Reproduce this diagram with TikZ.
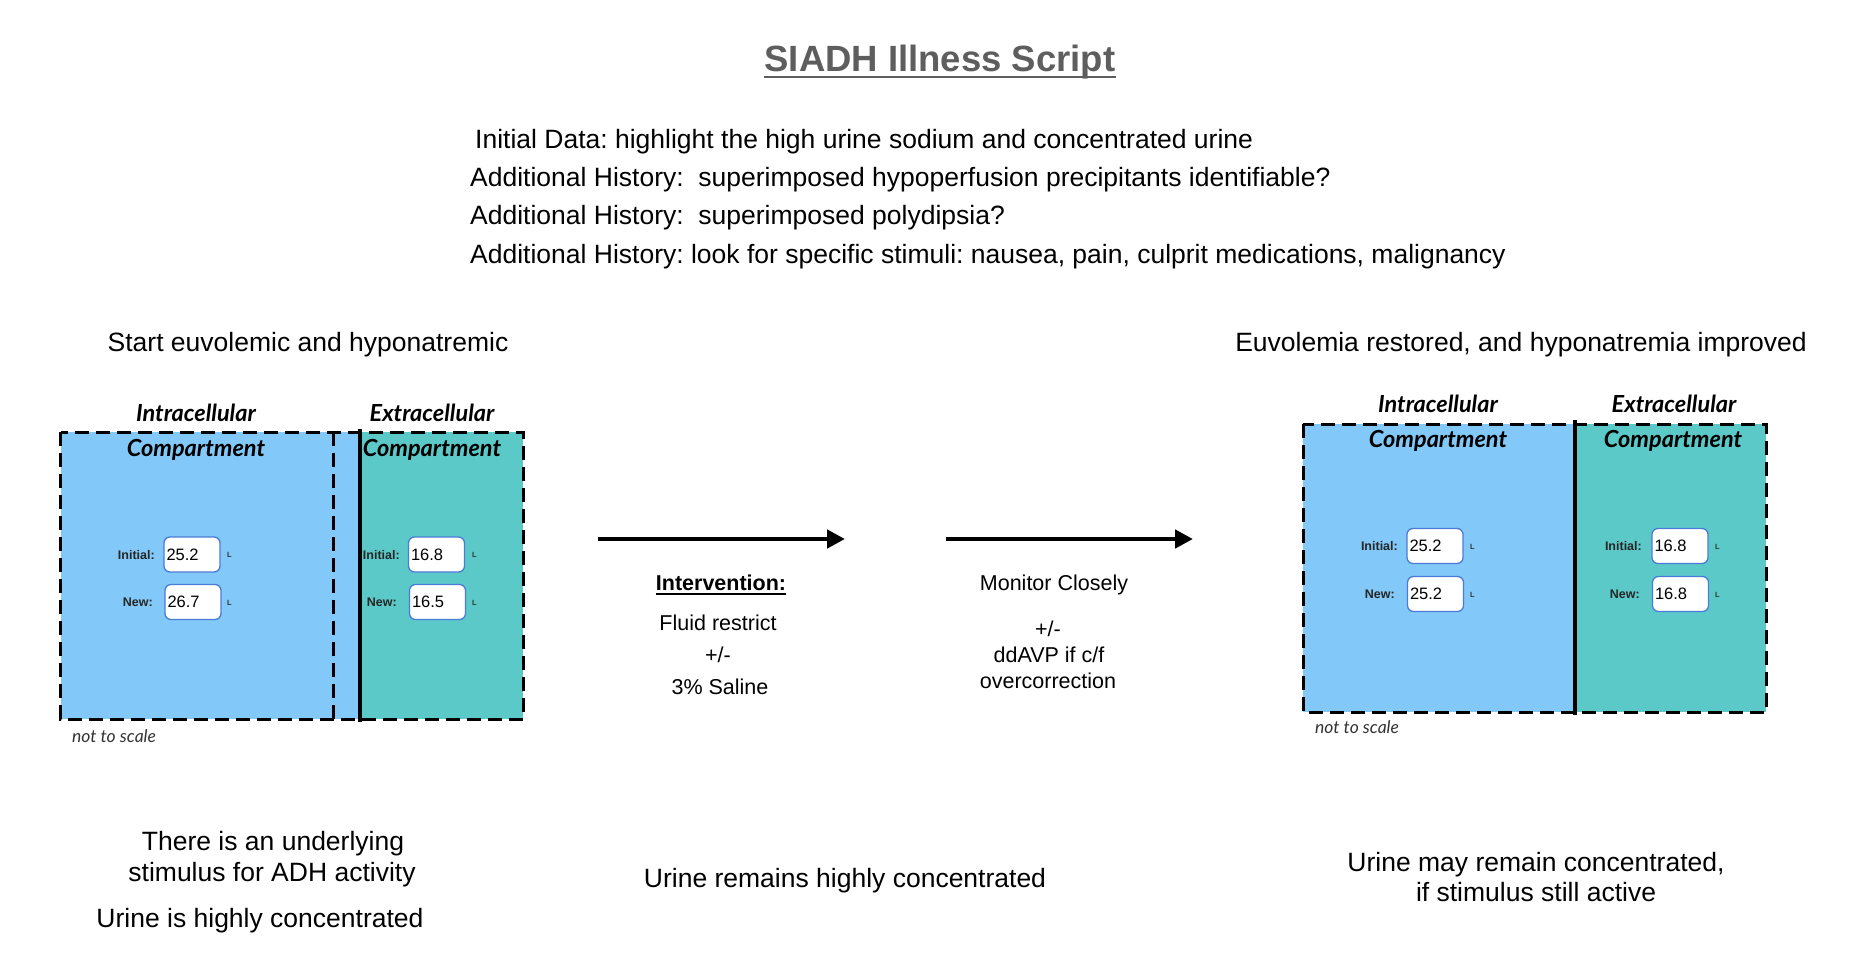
\documentclass[tikz,border=0pt]{standalone}
\usepackage{fontspec}
\setmainfont{Liberation Sans}
\newfontfamily\latofont{Lato}
\usetikzlibrary{arrows.meta}
\definecolor{icf}{HTML}{82C8F8}
\definecolor{ecf}{HTML}{5CC9C9}
\definecolor{boxblue}{HTML}{4A7BD6}
\definecolor{titlegray}{HTML}{5E5E5E}
\frenchspacing
\tikzset{
  txt/.style={inner sep=0pt, anchor=base, font=\fontsize{26.5}{32}\selectfont},
  txtl/.style={inner sep=0pt, anchor=base west, font=\fontsize{26.5}{32}\selectfont},
  midtxt/.style={inner sep=0pt, anchor=base, font=\fontsize{21.5}{26}\selectfont},
  titletxt/.style={inner sep=0pt, anchor=base, text=titlegray, font=\bfseries\fontsize{36.5}{42}\selectfont},
  comptxt/.style={inner sep=0pt, anchor=base, font=\latofont\bfseries\itshape\fontsize{23.5}{27}\selectfont},
  scaletxt/.style={inner sep=0pt, anchor=base west, text=black!80, font=\latofont\itshape\fontsize{17.5}{20}\selectfont},
  rowlbl/.style={inner sep=0pt, anchor=base east, text=black!85, font=\bfseries\fontsize{12.5}{14}\selectfont},
  unitlbl/.style={inner sep=0pt, anchor=base west, text=black!80, font=\bfseries\fontsize{7.5}{9}\selectfont},
  valbox/.style={draw=boxblue, fill=white, rounded corners=6pt, line width=1.3pt,
    text width=51pt, inner xsep=2.5pt, inner ysep=0pt, minimum height=35pt,
    align=left, font=\fontsize{16.5}{18}\selectfont},
  dashedge/.style={line width=3pt, dash pattern=on 14pt off 7pt},
  membrane/.style={line width=4.7pt},
  arr/.style={line width=4.5pt, -{Triangle[length=18pt,width=18pt]}}
}
\begin{document}
\frenchspacing
\begin{tikzpicture}[x=1pt,y=-1pt]
\useasboundingbox[fill=white] (0,0) rectangle (1874,976);

% ---------------- Title and header texts ----------------
\node[titletxt] (title) at (940,72) {SIADH Illness Script};
\draw[titlegray, line width=2.2pt] ([yshift=-5pt]title.base west) -- ([yshift=-5pt]title.base east);

\node[txtl] (h1) at (475,149) {Initial Data: highlight the high urine sodium and concentrated urine};
\node[txtl] (h2) at (470,187) {Additional History:\ \ superimposed hypoperfusion precipitants identifiable?};
\node[txtl] (h3) at (470,225) {Additional History:\ \ superimposed polydipsia?};
\node[txtl] (h4) at (470,264) {Additional History: look for specific stimuli: nausea, pain, culprit medications, malignancy};

\node[txt] (startlbl) at (308,352) {Start euvolemic and hyponatremic};
\node[txt] (endlbl) at (1521,352) {Euvolemia restored, and hyponatremia improved};

% ---------------- Left compartment diagram ----------------
\fill[icf] (60.7,432) rectangle (360,719);
\fill[ecf] (360,432) rectangle (523,719);
\draw[dashedge] (60.7,432) rectangle (523,719);
\draw[dashedge] (333,432) -- (333,719);

\node[comptxt] (lic1) at (196,421) {Intracellular};
\node[comptxt] (lic2) at (196,456) {Compartment};
\node[comptxt] (lec1) at (432,421) {Extracellular};
\node[comptxt] (lec2) at (432,456) {Compartment};

\node[rowlbl] (lii) at (155,559) {Initial:};
\node[valbox] (liiv) at (192,554.5) {25.2};
\node[unitlbl] (liiu) at (227,557) {L};
\node[rowlbl] (lin) at (153,606.5) {New:};
\node[valbox] (linv) at (193,602) {26.7};
\node[unitlbl] (linu) at (227,605) {L};

\node[rowlbl] (lei) at (400,559) {Initial:};
\node[valbox] (leiv) at (436.5,554.5) {16.8};
\node[unitlbl] (leiu) at (472,557) {L};
\node[rowlbl] (len) at (397,606.5) {New:};
\node[valbox] (lenv) at (437.5,602) {16.5};
\node[unitlbl] (lenu) at (472,605) {L};

\draw[membrane] (360,429) -- (360,722);
\node[scaletxt] (lscale) at (72,742) {not to scale};

% ---------------- Right compartment diagram ----------------
\fill[icf] (1303,424) rectangle (1575,712);
\fill[ecf] (1575,424) rectangle (1766,712);
\draw[dashedge] (1303,424) rectangle (1766,712);

\node[comptxt] (ric1) at (1438,412) {Intracellular};
\node[comptxt] (ric2) at (1438,447) {Compartment};
\node[comptxt] (rec1) at (1674,412) {Extracellular};
\node[comptxt] (rec2) at (1673,447) {Compartment};

\node[rowlbl] (rii) at (1398,550.5) {Initial:};
\node[valbox] (riiv) at (1435,546) {25.2};
\node[unitlbl] (riiu) at (1470,549) {L};
\node[rowlbl] (rin) at (1395,598.5) {New:};
\node[valbox] (rinv) at (1435.5,594) {25.2};
\node[unitlbl] (rinu) at (1470,597) {L};

\node[rowlbl] (rei) at (1642,550.5) {Initial:};
\node[valbox] (reiv) at (1680,546) {16.8};
\node[unitlbl] (reiu) at (1715,549) {L};
\node[rowlbl] (ren) at (1640,598.5) {New:};
\node[valbox] (renv) at (1680.5,594) {16.8};
\node[unitlbl] (renu) at (1715,597) {L};

\draw[membrane] (1575,420) -- (1575,715);
\node[scaletxt] (rscale) at (1315,733) {not to scale};

% ---------------- Arrows and middle texts ----------------
\coordinate (a1s) at (598,539);
\coordinate (a1e) at (845,539);
\coordinate (a2s) at (946,539);
\coordinate (a2e) at (1193,539);
\draw[arr] (a1s) -- (a1e);
\draw[arr] (a2s) -- (a2e);

\node[midtxt, font=\bfseries\fontsize{21.5}{26}\selectfont] (interv) at (721,590) {Intervention:};
\draw[line width=1.5pt] ([yshift=-4pt]interv.base west) -- ([yshift=-4pt]interv.base east);
\node[midtxt] (fluid) at (718,630) {Fluid restrict};
\node[midtxt] (pm1) at (718,662) {+/-};
\node[midtxt] (saline) at (720,694) {3\% Saline};

\node[midtxt] (monitor) at (1054,590) {Monitor Closely};
\node[midtxt] (pm2) at (1048,636) {+/-};
\node[midtxt] (ddavp) at (1049,662) {ddAVP if c/f};
\node[midtxt] (overc) at (1048,688) {overcorrection};

% ---------------- Bottom texts ----------------
\node[txt] (b1a) at (273,850) {There is an underlying};
\node[txt] (b1b) at (272,881) {stimulus for ADH activity};
\node[txt] (b1c) at (260,927) {Urine is highly concentrated};
\node[txt] (b2) at (845,887) {Urine remains highly concentrated};
\node[txt] (b3a) at (1536,871) {Urine may remain concentrated,};
\node[txt] (b3b) at (1536,901) {if stimulus still active};
\end{tikzpicture}
\end{document}
